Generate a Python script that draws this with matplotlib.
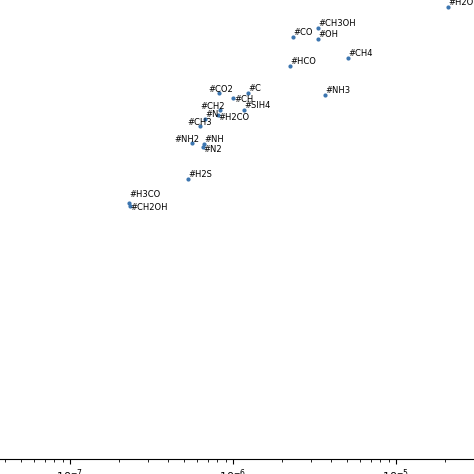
import numpy as np
import matplotlib
matplotlib.use('Agg')
import matplotlib.pyplot as plt

species = ['#H2O', '#CH3OH', '#CO', '#OH', '#CH4', '#HCO', '#CO2', '#C', '#CH',
           '#SIH4', '#CH2', '#H2CO', '#N', '#CH3', '#NH2', '#NH', '#N2', '#H2S',
           '#H3CO', '#CH2OH', '#NH3']
px = [448, 318, 293, 318, 348, 290, 219, 248, 233, 244, 220, 218, 205, 200, 192, 204, 203, 188, 129, 130, 325]
py = [7, 28, 37, 39, 58, 66, 93, 93, 98, 110, 110, 115, 119, 126, 143, 144, 147, 179, 203, 206, 95]
# label offsets in points (dx, dy)
offsets = {'#CO2': (-8, -1), '#CH2': (-14, -1), '#CH3': (-9, -1), '#NH2': (-13, -1),
           '#CH': (1, -4), '#H2CO': (0, -5), '#N2': (0, -5), '#CH2OH': (0, -4), '#H3CO': (0, 3)}

x = 10 ** (-7 + (np.array(px) - 70) / 163.0)
y = -np.array(py, dtype=float)

fig = plt.figure(figsize=(4.74, 4.74), dpi=100)
ax = fig.add_axes([0, 0.031, 1, 0.969])
ax.scatter(x, y, s=4, color='#3b75af', zorder=3)
for name, xi, yi in zip(species, x, y):
    dx, dy = offsets.get(name, (0, 0))
    ax.annotate(name, (xi, yi), xytext=(dx, dy), textcoords='offset points',
                fontsize=6, ha='left', va='bottom')
ax.set_xscale('log')
ax.set_xlim(10 ** (-7 - 70 / 163.0), 10 ** (-5 + 78 / 163.0))
ax.set_ylim(-459, 0)
for s in ['top', 'right', 'left']:
    ax.spines[s].set_visible(False)
ax.set_yticks([])
ax.tick_params(axis='x', labelsize=8, pad=2)
fig.savefig('out.png', dpi=100)
